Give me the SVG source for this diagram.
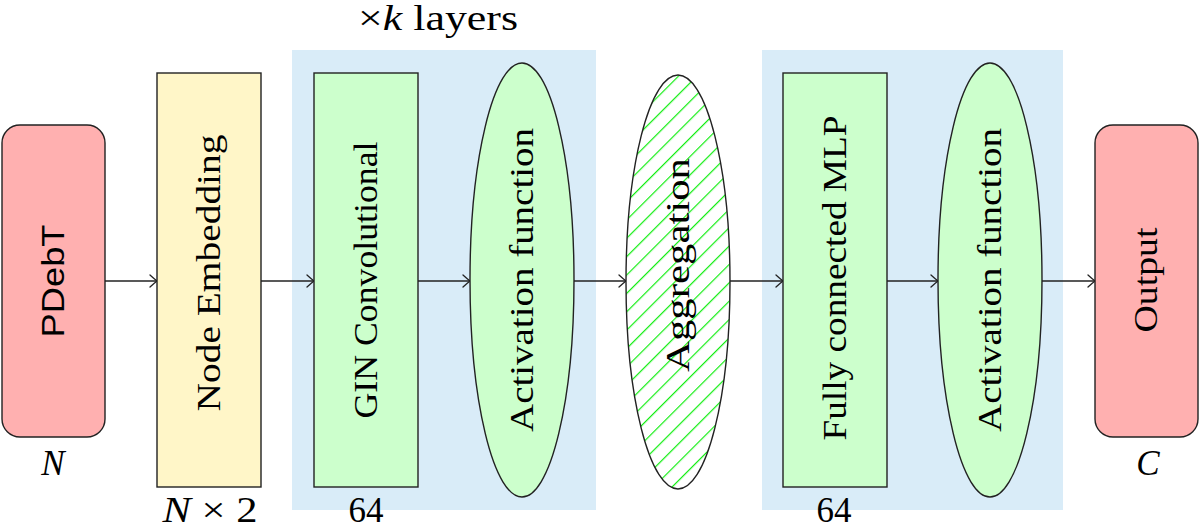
<svg xmlns="http://www.w3.org/2000/svg" width="1200" height="528" viewBox="0 0 1200 528">
<style>
.nd{stroke:#222;stroke-width:1.4}
.t{font-family:"Liberation Serif","DejaVu Serif",serif;font-size:33px;fill:#000;text-anchor:middle;dominant-baseline:central}
.s{font-family:"Liberation Sans","DejaVu Sans",sans-serif;font-size:31px;fill:#000;text-anchor:middle;dominant-baseline:central}
.m{font-family:"Liberation Serif","DejaVu Serif",serif;font-size:35px;fill:#000;text-anchor:middle}
.c{stroke:#222;stroke-width:1.3;fill:none;marker-end:url(#ah)}
</style>
<defs>
<marker id="ah" markerUnits="userSpaceOnUse" viewBox="-10 -7 12 14" refX="0" refY="0" markerWidth="12" markerHeight="14" orient="auto">
<path d="M-7,-6 Q-2,-1.5 0,0 Q-2,1.5 -7,6" fill="none" stroke="#222" stroke-width="1.3" stroke-linecap="round"/>
</marker>
<pattern id="hatch" patternUnits="userSpaceOnUse" width="13" height="13" patternTransform="rotate(45)">
<rect width="13" height="13" fill="#fff"/>
<line x1="0" y1="0" x2="0" y2="13" stroke="#11ee11" stroke-width="2.4"/>
</pattern>
</defs>
<g id="bg">
<rect x="292" y="50" width="304" height="460" fill="#d9ecf8"/>
<rect x="762" y="50" width="301" height="460" fill="#d9ecf8"/>
<text class="m" x="438" y="30" font-size="32" textLength="160" lengthAdjust="spacingAndGlyphs">×<tspan font-style="italic">k</tspan> layers</text>
</g>
<g id="connectors">
<line class="c" x1="105" y1="281" x2="157" y2="281"/>
<line class="c" x1="261" y1="281" x2="314" y2="281"/>
<line class="c" x1="418" y1="281" x2="470" y2="281"/>
<line class="c" x1="574" y1="281" x2="626" y2="281"/>
<line class="c" x1="730" y1="281" x2="783" y2="281"/>
<line class="c" x1="887" y1="281" x2="938" y2="281"/>
<line class="c" x1="1042" y1="281" x2="1095" y2="281"/>
</g>
<g id="pdebt">
<rect class="nd" x="2" y="125" width="103" height="312" rx="18" fill="#ffb0b0"/>
<text class="s" transform="translate(53,281) rotate(-90)" textLength="113" lengthAdjust="spacingAndGlyphs">PDebT</text>
<text class="m" x="53" y="475" font-style="italic">N</text>
</g>
<g id="embedding">
<rect class="nd" x="157" y="73" width="104" height="414" fill="#fff6c8"/>
<text class="t" transform="translate(209,273) rotate(-90)" textLength="277" lengthAdjust="spacingAndGlyphs">Node Embedding</text>
<text class="m" x="210" y="522" textLength="95" lengthAdjust="spacingAndGlyphs"><tspan font-style="italic">N</tspan> × 2</text>
</g>
<g id="gin">
<rect class="nd" x="314" y="73" width="104" height="414" fill="#ccffcc"/>
<text class="t" transform="translate(366,280) rotate(-90)" textLength="277" lengthAdjust="spacingAndGlyphs">GIN Convolutional</text>
<text class="m" x="366" y="522">64</text>
</g>
<g id="act1">
<ellipse class="nd" cx="522" cy="280" rx="52" ry="217" fill="#ccffcc"/>
<text class="t" transform="translate(522,280) rotate(-90)" textLength="304" lengthAdjust="spacingAndGlyphs">Activation function</text>
</g>
<g id="agg">
<ellipse class="nd" cx="678" cy="282" rx="52" ry="207" fill="url(#hatch)"/>
<text class="t" transform="translate(678,265) rotate(-90)" textLength="214" lengthAdjust="spacingAndGlyphs">Aggregation</text>
</g>
<g id="mlp">
<rect class="nd" x="783" y="73" width="104" height="414" fill="#ccffcc"/>
<text class="t" transform="translate(835,278) rotate(-90)" textLength="325" lengthAdjust="spacingAndGlyphs">Fully connected MLP</text>
<text class="m" x="834" y="522">64</text>
</g>
<g id="act2">
<ellipse class="nd" cx="990" cy="280" rx="52" ry="217" fill="#ccffcc"/>
<text class="t" transform="translate(990,280) rotate(-90)" textLength="304" lengthAdjust="spacingAndGlyphs">Activation function</text>
</g>
<g id="output">
<rect class="nd" x="1095" y="125" width="103" height="312" rx="18" fill="#ffb0b0"/>
<text class="t" transform="translate(1146,280) rotate(-90)" textLength="105" lengthAdjust="spacingAndGlyphs">Output</text>
<text class="m" x="1148" y="475" font-style="italic">C</text>
</g>
</svg>
